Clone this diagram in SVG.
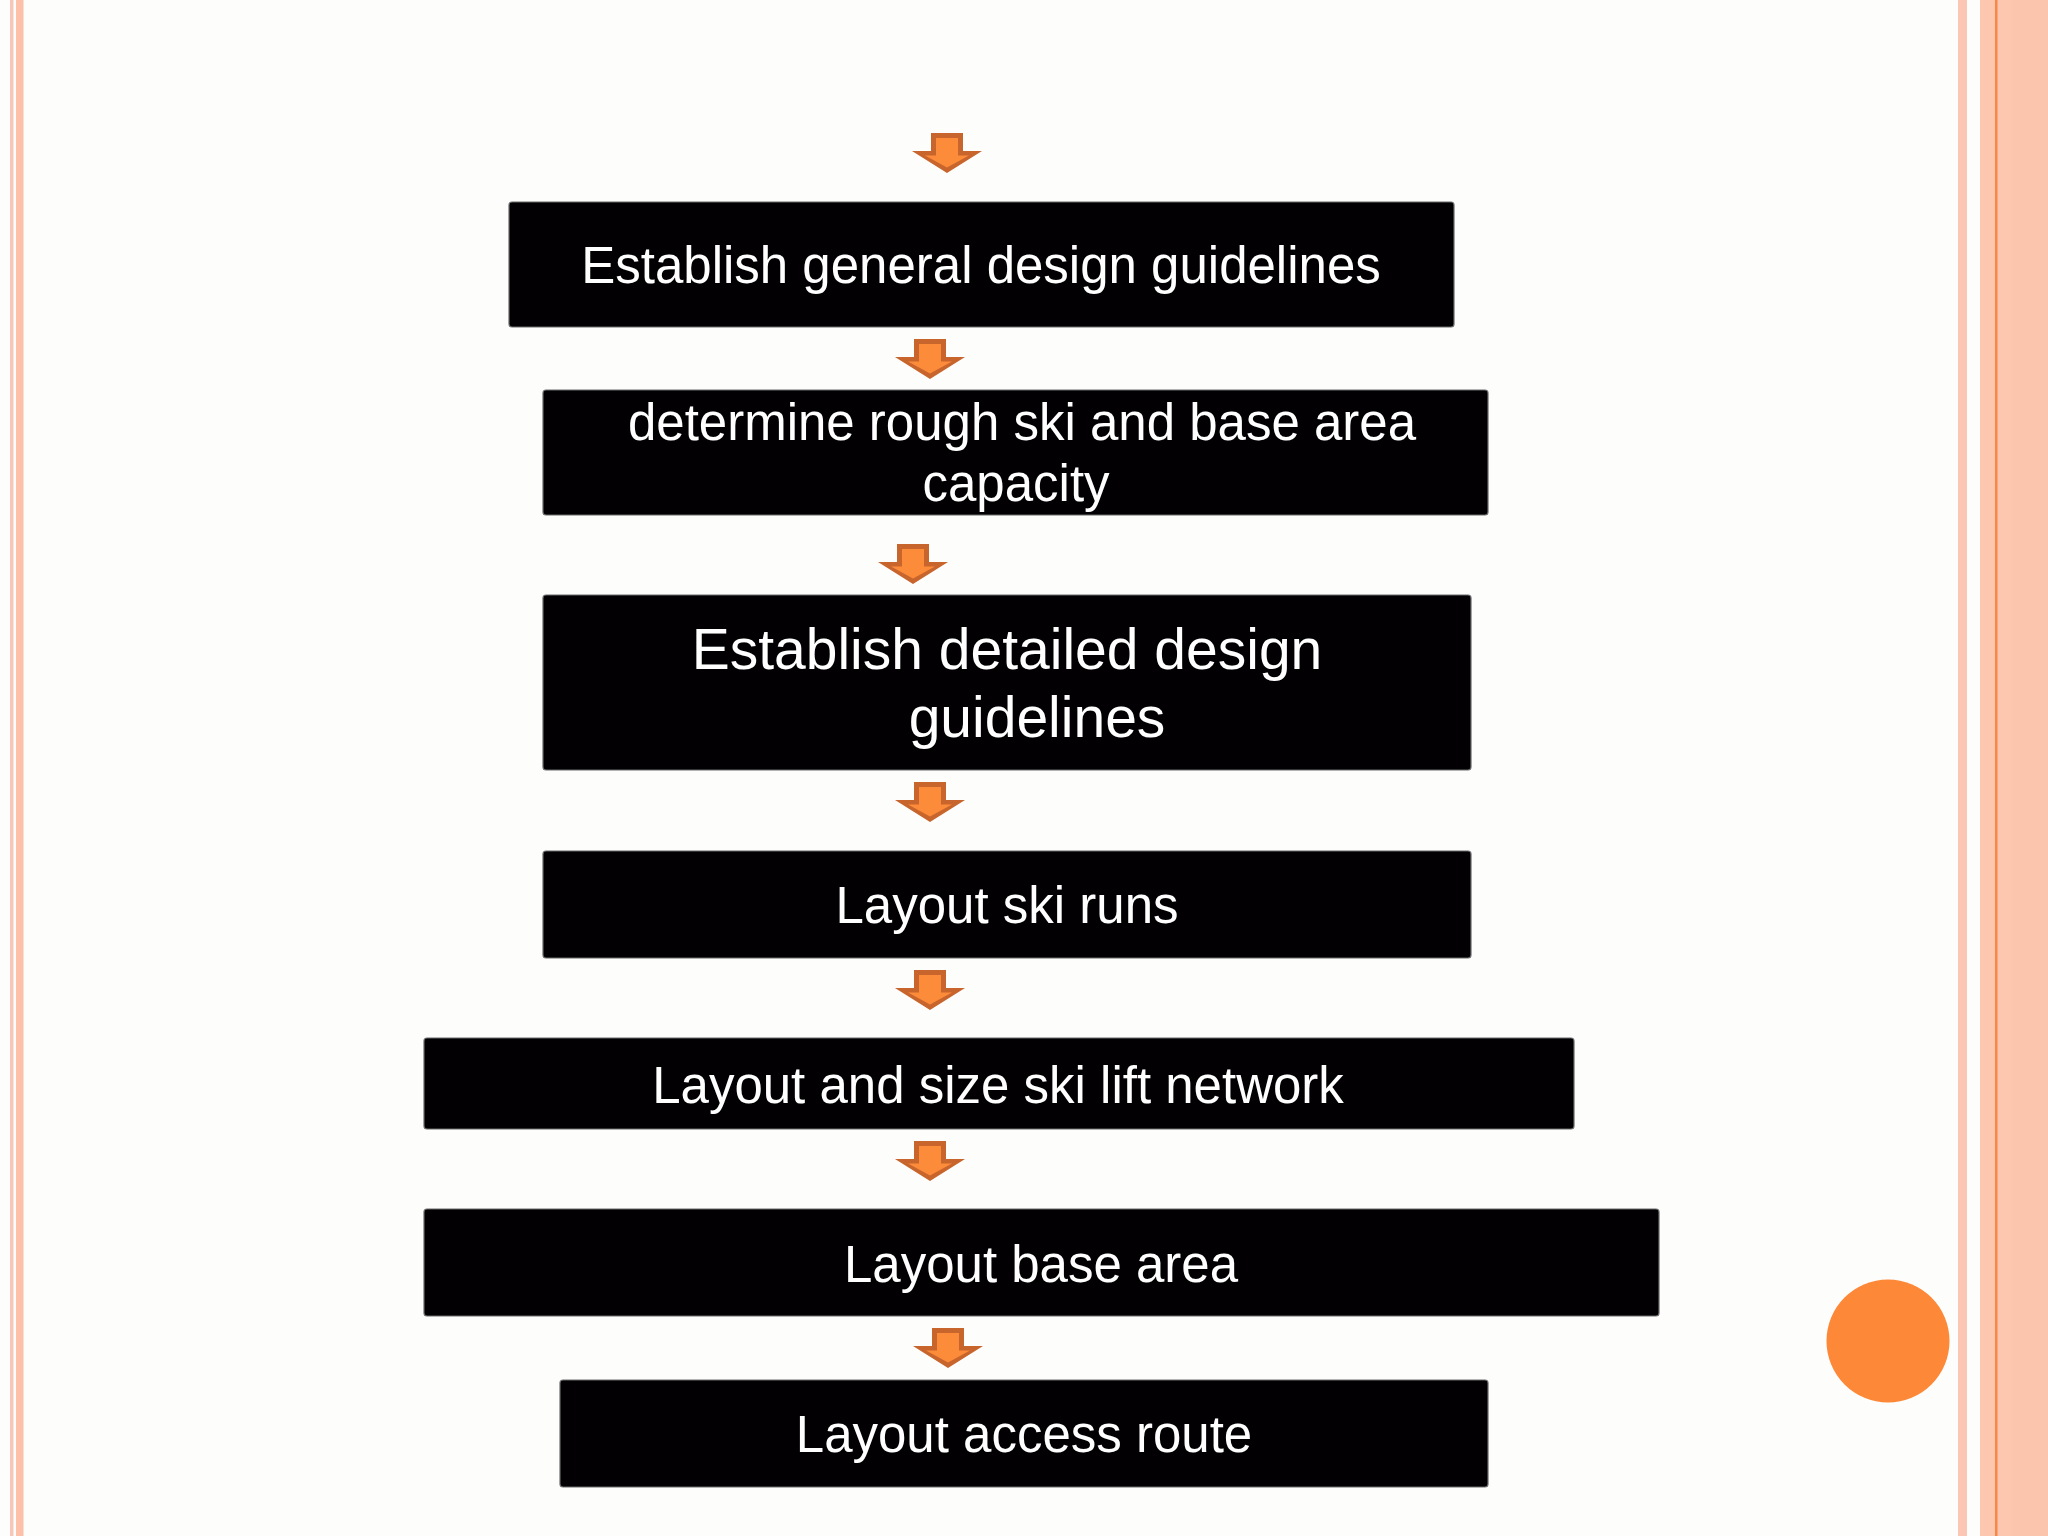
<svg xmlns="http://www.w3.org/2000/svg" xmlns:xlink="http://www.w3.org/1999/xlink" width="2048" height="1536" viewBox="0 0 2048 1536">
<style>
.box{fill:#020003;stroke:#6a6a6a;stroke-width:1.2}
.lbl{fill:#ffffff;font-family:"Liberation Sans",Arial,sans-serif;font-size:51px;text-anchor:middle}
.big{font-size:57px}
.arr-out{fill:#c8652c}
.arr-in{fill:#fc8b3a}
</style>
<defs>
<g id="arrow">
<path class="arr-out" d="M-16,0 L16,0 L16,18 L35,18 L0,40 L-35,18 L-16,18 Z"/>
<path class="arr-in" d="M-11,5 L11,5 L11,22.5 L22,22.5 L0,34.5 L-22,22.5 L-11,22.5 Z"/>
</g>
</defs>
<rect x="0" y="0" width="2048" height="1536" fill="#fdfdfc"/>
<g id="frame">
<rect x="10" y="0" width="3.5" height="1536" fill="#f6c6bc"/>
<rect x="16" y="0" width="7.5" height="1536" fill="#fdc0a8"/>
<rect x="1958" y="0" width="9" height="1536" fill="#fcc6b4"/>
<rect x="1980" y="0" width="68" height="1536" fill="#fdc6ae"/>
<rect x="1995" y="0" width="2.5" height="1536" fill="#f3884a"/>
<rect x="2012" y="0" width="36" height="1536" fill="#fbc4ac"/>
</g>
<g id="connectors">
<use xlink:href="#arrow" transform="translate(947,133)"/>
<use xlink:href="#arrow" transform="translate(930,339)"/>
<use xlink:href="#arrow" transform="translate(913,544)"/>
<use xlink:href="#arrow" transform="translate(930,782)"/>
<use xlink:href="#arrow" transform="translate(930,970)"/>
<use xlink:href="#arrow" transform="translate(930,1141)"/>
<use xlink:href="#arrow" transform="translate(948,1328)"/>
</g>
<g id="n1"><rect class="box" x="509" y="202" width="945" height="125" rx="3"/><text class="lbl" x="981" y="283">Establish general design guidelines</text></g>
<g id="n2"><rect class="box" x="543" y="390" width="945" height="125" rx="3"/><text class="lbl" x="1022" y="440">determine rough ski and base area</text><text class="lbl" x="1016" y="501">capacity</text></g>
<g id="n3"><rect class="box" x="543" y="595" width="928" height="175" rx="3"/><text class="lbl big" x="1007" y="669">Establish detailed design</text><text class="lbl big" x="1037" y="737">guidelines</text></g>
<g id="n4"><rect class="box" x="543" y="851" width="928" height="107" rx="3"/><text class="lbl" x="1007" y="923">Layout ski runs</text></g>
<g id="n5"><rect class="box" x="424" y="1038" width="1150" height="91" rx="3"/><text class="lbl" x="998" y="1103">Layout and size ski lift network</text></g>
<g id="n6"><rect class="box" x="424" y="1209" width="1235" height="107" rx="3"/><text class="lbl" x="1041" y="1282">Layout base area</text></g>
<g id="n7"><rect class="box" x="560" y="1380" width="928" height="107" rx="3"/><text class="lbl" x="1024" y="1452">Layout access route</text></g>
<circle id="dot" cx="1888" cy="1341" r="61.5" fill="#fd8838"/>
</svg>
